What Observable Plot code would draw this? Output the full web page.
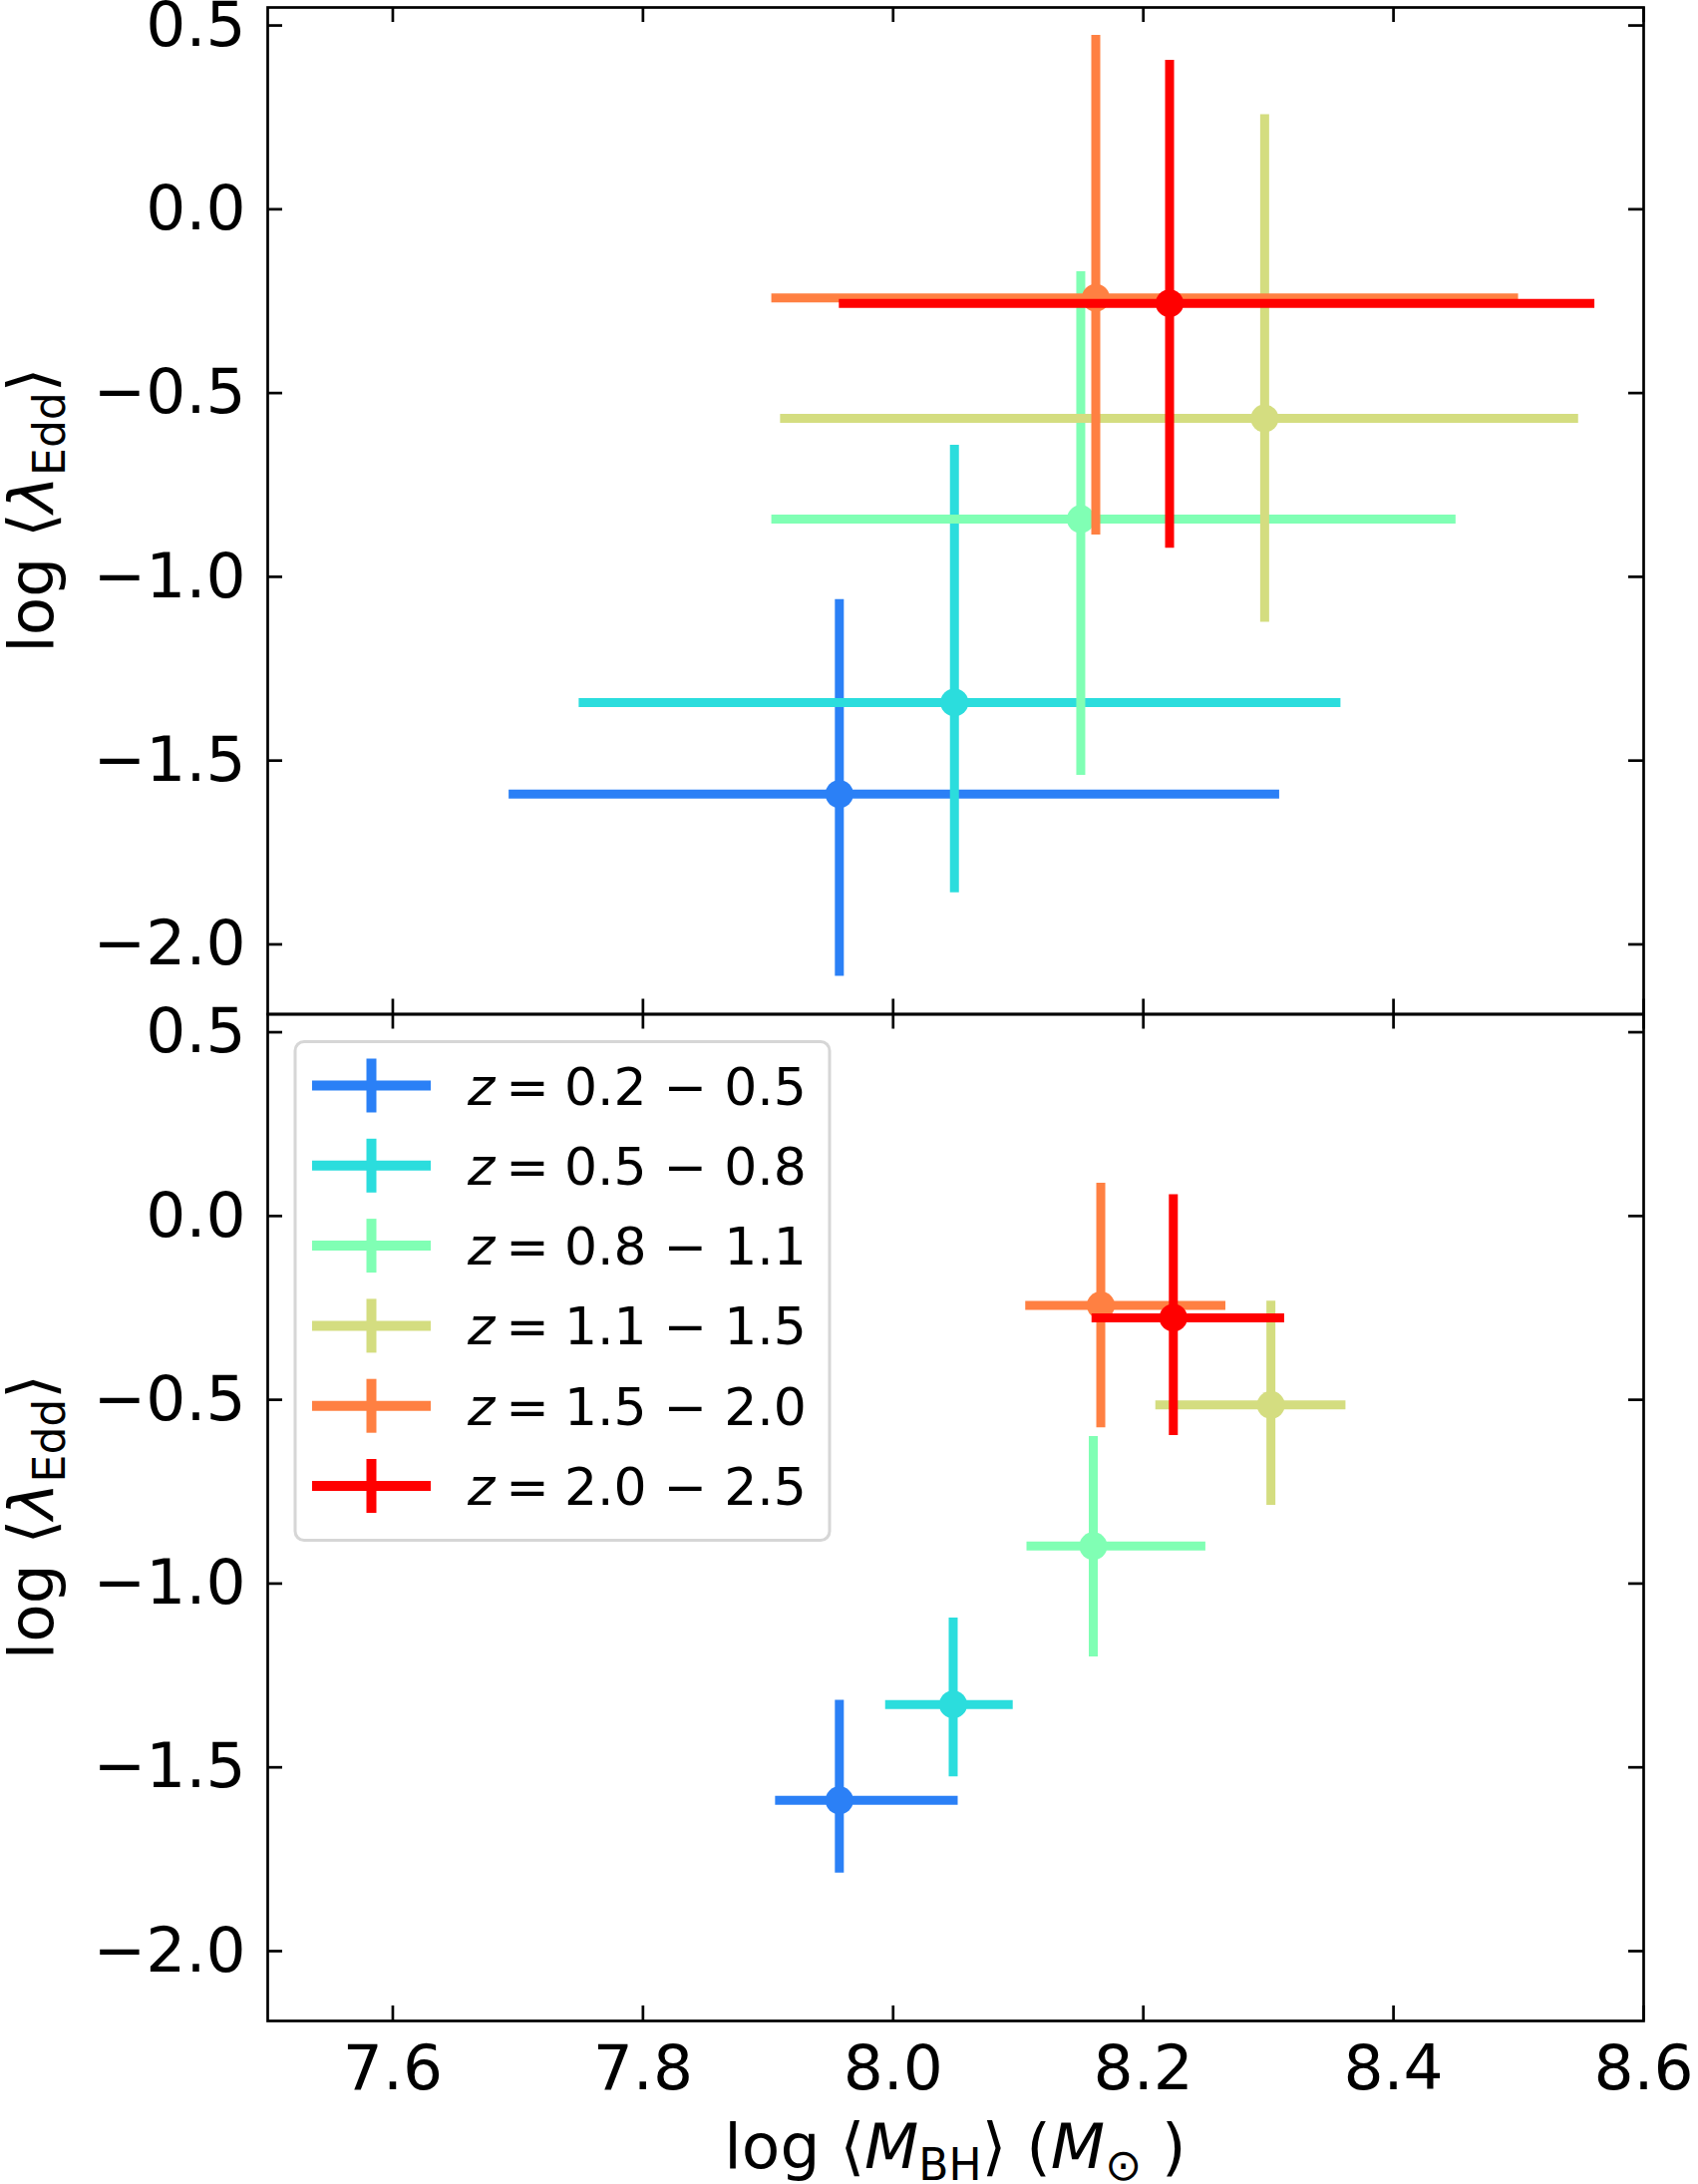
<!DOCTYPE html>
<html><head><meta charset="utf-8">
<script src="https://cdn.jsdelivr.net/npm/d3@7"></script>
<script src="https://cdn.jsdelivr.net/npm/@observablehq/plot@0.6"></script>
<style>body{margin:0;background:#fff} #chart{width:1703px;height:2190px}</style>
</head><body><div id="chart"></div>
<script>
// ---- data ----
const zLo = ["0.2", "0.5", "0.8", "1.1", "1.5", "2.0"];
const zHi = ["0.5", "0.8", "1.1", "1.5", "2.0", "2.5"];
const colors = ["#2b80f6", "#2bdddd", "#80ffb4", "#d4dd80", "#ff8042", "#ff0000"];

// top panel
const topMass   = [7.957, 8.049, 8.150, 8.297, 8.162, 8.221];
const topMassLo = [7.693, 7.749, 7.903, 7.910, 7.903, 7.957];
const topMassHi = [8.309, 8.358, 8.450, 8.548, 8.500, 8.561];
const topLam    = [-1.591, -1.342, -0.843, -0.569, -0.241, -0.256];
const topLamLo  = [-2.087, -1.860, -1.540, -1.124, -0.886, -0.922];
const topLamHi  = [-1.062, -0.642, -0.170, 0.257, 0.473, 0.405];

// bottom panel
const botMass   = [7.957, 8.048, 8.160, 8.302, 8.166, 8.224];
const botMassLo = [7.906, 7.994, 8.107, 8.210, 8.106, 8.159];
const botMassHi = [8.052, 8.096, 8.250, 8.362, 8.266, 8.313];
const botLam    = [-1.590, -1.329, -0.898, -0.514, -0.243, -0.277];
const botLamLo  = [-1.788, -1.526, -1.200, -0.787, -0.576, -0.597];
const botLamHi  = [-1.318, -1.094, -0.600, -0.232, 0.089, 0.058];

const xTicks = [7.6, 7.8, 8.0, 8.2, 8.4, 8.6];
const yTicks = [0.5, 0.0, -0.5, -1.0, -1.5, -2.0];
const panels = ["top", "bottom"];

// ---- table ----
const rows = [];
zLo.forEach((z, i) => {
  rows.push({panel: "top", g: i, m: topMass[i], mlo: topMassLo[i], mhi: topMassHi[i], l: topLam[i], llo: topLamLo[i], lhi: topLamHi[i]});
  rows.push({panel: "bottom", g: i, m: botMass[i], mlo: botMassLo[i], mhi: botMassHi[i], l: botLam[i], llo: botLamLo[i], lhi: botLamHi[i]});
});

// ---- layout ----
const W = 1703, H = 2190, mL = 268, mR = 55, mT = 7, mB = 164;
const innerW = W - mL - mR;
const facetH = (H - mT - mB) / 2;
const FONT = "DejaVu Sans";
const TL = 15, LW = 2.7;
const fmt = d => (d < 0 ? "−" : "") + Math.abs(d).toFixed(1);

const marks = [];
zLo.forEach((z, i) => {
  const d = rows.filter(r => r.g === i);
  marks.push(
    Plot.ruleY(d, {y: "l", x1: "mlo", x2: "mhi", fy: "panel", stroke: colors[i], strokeWidth: 9}),
    Plot.ruleX(d, {x: "m", y1: "llo", y2: "lhi", fy: "panel", stroke: colors[i], strokeWidth: 9}),
    Plot.dot(d, {x: "m", y: "l", fy: "panel", r: 14, fill: colors[i], stroke: "none"})
  );
});

const chart = Plot.plot({
  width: W, height: H,
  marginLeft: mL, marginRight: mR, marginTop: mT, marginBottom: mB,
  style: {fontFamily: FONT, fontSize: "63px", background: "white", color: "black"},
  x: {domain: [7.5, 8.6]},
  y: {domain: [-2.19, 0.549]},
  fy: {domain: panels, padding: 0, axis: null, round: false},
  marks: [
    ...marks,
    Plot.tickX(xTicks, {x: d => d, insetTop: facetH - TL, stroke: "black", strokeWidth: LW}),
    Plot.tickX(xTicks, {x: d => d, insetBottom: facetH - TL, stroke: "black", strokeWidth: LW}),
    Plot.tickY(yTicks, {y: d => d, insetRight: innerW - TL, stroke: "black", strokeWidth: LW}),
    Plot.tickY(yTicks, {y: d => d, insetLeft: innerW - TL, stroke: "black", strokeWidth: LW}),
    Plot.axisX(xTicks, {anchor: "bottom", tickSize: 0, tickPadding: 24, fontSize: 63, tickFormat: fmt, label: null}),
    Plot.axisY(yTicks, {anchor: "left", tickSize: 0, tickPadding: 22, fontSize: 63, tickFormat: fmt, label: null}),
    Plot.frame({stroke: "black", strokeWidth: LW})
  ]
});
document.getElementById("chart").appendChild(chart);

// ---- axis titles & legend (rich text) ----
const svg = d3.select(chart);
[mT + facetH / 2, mT + facetH * 1.5].forEach(cy => {
  const t = svg.append("text")
    .attr("transform", `translate(53,${cy}) rotate(-90)`)
    .attr("text-anchor", "middle").attr("font-size", 63).attr("font-family", FONT).attr("fill", "black");
  t.append("tspan").text("log ⟨");
  t.append("tspan").attr("font-style", "italic").text("λ");
  t.append("tspan").attr("font-size", 44).attr("dy", 12).text("Edd");
  t.append("tspan").attr("dy", -12).text("⟩");
});
{
  const t = svg.append("text")
    .attr("x", mL + innerW / 2).attr("y", 2174)
    .attr("text-anchor", "middle").attr("font-size", 63).attr("font-family", FONT).attr("fill", "black");
  t.append("tspan").text("log ⟨");
  t.append("tspan").attr("font-style", "italic").text("M");
  t.append("tspan").attr("font-size", 44).attr("dy", 12).text("BH");
  t.append("tspan").attr("dy", -12).text("⟩ (");
  t.append("tspan").attr("font-style", "italic").text("M");
  t.append("tspan").attr("font-size", 44).attr("dy", 12).text("⊙");
  t.append("tspan").attr("dy", -12).text(" )");
}
{
  const lg = svg.append("g").attr("font-family", FONT).attr("text-anchor", "start");
  const bx = mL + 28, by = mT + facetH + 28;
  lg.append("rect").attr("x", bx).attr("y", by).attr("width", 536).attr("height", 500)
    .attr("rx", 9).attr("fill", "white").attr("fill-opacity", 0.8)
    .attr("stroke", "#d6d6d6").attr("stroke-width", 3);
  zLo.forEach((z, i) => {
    const cy = by + 44 + i * 80.3;
    lg.append("line").attr("x1", bx + 17).attr("x2", bx + 136).attr("y1", cy).attr("y2", cy)
      .attr("stroke", colors[i]).attr("stroke-width", 10);
    lg.append("line").attr("x1", bx + 76.5).attr("x2", bx + 76.5).attr("y1", cy - 27).attr("y2", cy + 27)
      .attr("stroke", colors[i]).attr("stroke-width", 10);
    const t = lg.append("text").attr("x", bx + 173).attr("y", cy + 19).attr("font-size", 52)
      .attr("fill", "black").attr("text-anchor", "start");
    t.append("tspan").attr("font-style", "italic").text("z");
    t.append("tspan").attr("dx", 11).text("=");
    t.append("tspan").attr("dx", 15).text(z);
    t.append("tspan").attr("dx", 17).text("−");
    t.append("tspan").attr("dx", 17).text(zHi[i]);
  });
}
</script>
</body></html>
